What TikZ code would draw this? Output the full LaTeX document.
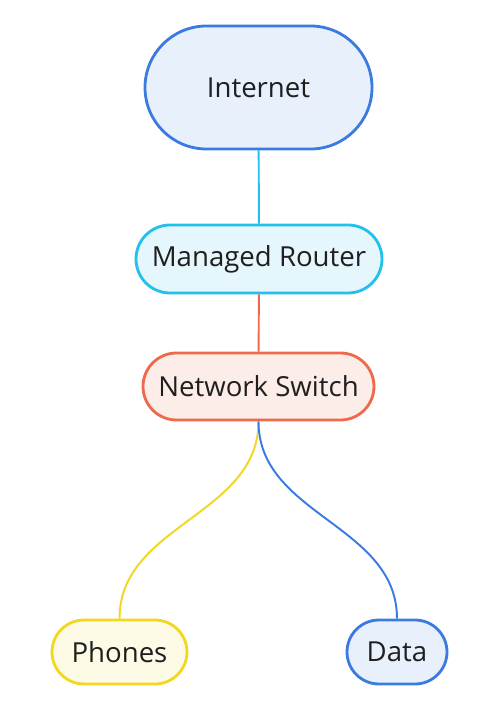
\documentclass[tikz,border=0pt]{standalone}
\usepackage{fontspec}
\setmainfont{Open Sans}
\usepackage{xcolor}
\definecolor{netblue}{HTML}{3B7BE0}
\definecolor{netbluefill}{HTML}{E8F0FC}
\definecolor{netcyan}{HTML}{22C0EA}
\definecolor{netcyanfill}{HTML}{E5F7FD}
\definecolor{netorange}{HTML}{EE6A4A}
\definecolor{netorangefill}{HTML}{FDEDE8}
\definecolor{netyellow}{HTML}{F0D820}
\definecolor{netyellowfill}{HTML}{FDFBE6}
\definecolor{nettext}{HTML}{1F1F1F}
\tikzset{pill/.style={draw, line width=1.6pt, text=nettext, font=\fontsize{15.7}{18}\selectfont, inner sep=0pt}}
\begin{document}
\begin{tikzpicture}
\useasboundingbox (0,0) rectangle (10,-14.12);
\node[pill, draw=netblue, fill=netbluefill, minimum width=4.54cm, minimum height=2.46cm, rounded corners=1.23cm] (inet) at (5.17,-1.75) {Internet};
\node[pill, draw=netcyan, fill=netcyanfill, minimum width=4.92cm, minimum height=1.36cm, rounded corners=0.68cm] (router) at (5.18,-5.18) {Managed Router};
\node[pill, draw=netorange, fill=netorangefill, minimum width=4.62cm, minimum height=1.34cm, rounded corners=0.67cm] (switch) at (5.17,-7.73) {Network Switch};
\node[pill, draw=netyellow, fill=netyellowfill, minimum width=2.7cm, minimum height=1.28cm, rounded corners=0.64cm] (phones) at (2.39,-13.04) {Phones};
\node[pill, draw=netblue, fill=netbluefill, minimum width=2.0cm, minimum height=1.28cm, rounded corners=0.64cm] (data) at (7.94,-13.04) {Data};
\draw[netcyan, line width=1.1pt] (inet) -- (router);
\draw[netorange, line width=1.1pt] (router) -- (switch);
\draw[netyellow, line width=1.1pt] (switch.south) to[out=-90, in=90] (phones.north);
\draw[netblue, line width=1.1pt] (switch.south) to[out=-90, in=90] (data.north);
\end{tikzpicture}
\end{document}
